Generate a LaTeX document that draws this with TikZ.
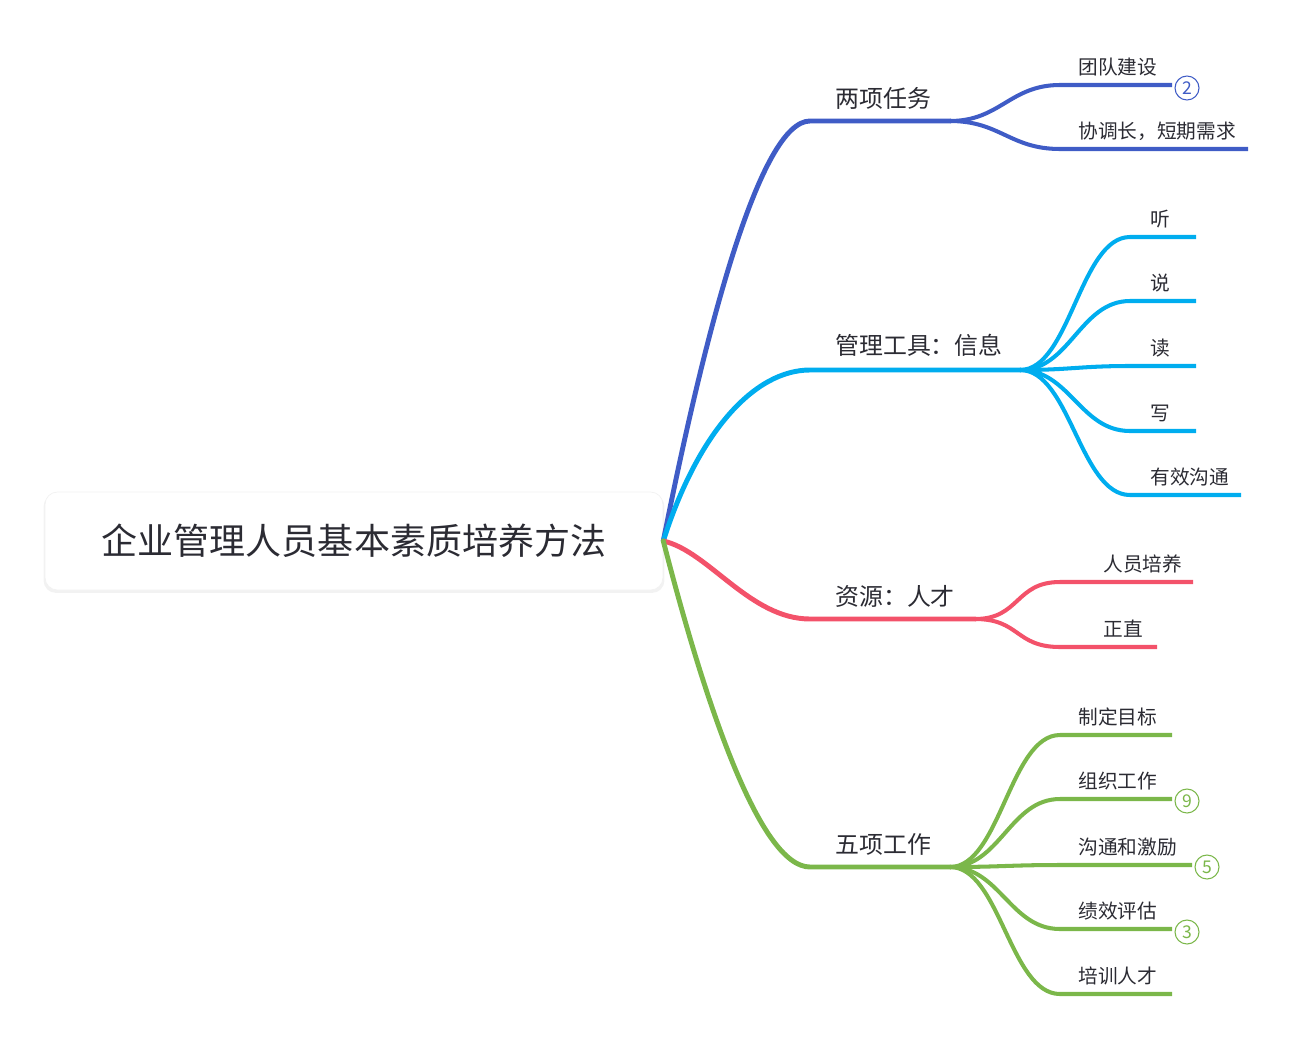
\documentclass[tikz,border=0pt]{standalone}
\usepackage{fontspec}
\setmainfont{Noto Sans CJK SC}
\usetikzlibrary{shadows}
\definecolor{txt}{HTML}{2B2B33}
\definecolor{cblue}{HTML}{3F5CC6}
\definecolor{ccyan}{HTML}{00ADEF}
\definecolor{cred}{HTML}{F3526A}
\definecolor{cgreen}{HTML}{7BB74A}

\begin{document}
\begin{tikzpicture}[x=0.02cm, y=-0.02cm,
    root/.style={rectangle, rounded corners=7pt, fill=white, draw=black!5, line width=0.4pt,
        drop shadow={opacity=0.10, shadow xshift=0pt, shadow yshift=-1.5pt, shadow scale=1.005},
        minimum width=12.36cm, minimum height=1.96cm, text=txt, font=\fontsize{20.5}{24}\selectfont},
    topic/.style={anchor=base west, inner sep=0pt, text=txt, font=\fontsize{13.6}{16}\selectfont},
    sub/.style={anchor=base west, inner sep=0pt, text=txt, font=\fontsize{11.2}{14}\selectfont},
    trunk/.style={line width=2.8pt, line cap=round},
    twig/.style={line width=2.3pt},
    badge/.style={circle, fill=white, line width=0.6pt, minimum size=0.48cm, inner sep=0pt,
        font=\fontsize{10}{12}\selectfont}]

    \useasboundingbox (0,0) rectangle (1293,1041);

    \node[root] (root) at (354,541) {企业管理人员基本素质培养方法};

    % two tasks
    \coordinate (t1s) at (810,121); \coordinate (t1e) at (950,121);
    \node[topic] (t1) at (835,107) {两项任务};
    \draw[trunk, cblue] (root.east) .. controls +(42,-211) and +(-50,0) .. (t1s) -- (t1e);
    \coordinate (s11s) at (1060,85);  \coordinate (s11e) at (1172,85);
    \coordinate (s12s) at (1060,149); \coordinate (s12e) at (1248,149);
    \node[sub] (s11) at (1078,74) {团队建设};
    \node[sub] (s12) at (1078,138) {协调长，短期需求};
    \draw[twig, cblue] (t1e) .. controls +(50,0) and +(-50,0) .. (s11s) -- (s11e);
    \draw[twig, cblue] (t1e) .. controls +(50,0) and +(-50,0) .. (s12s) -- (s12e);
    \node[badge, draw=cblue, text=cblue] (b11) at (1187,88) {2};

    % tools
    \coordinate (t2s) at (810,370); \coordinate (t2e) at (1020,370);
    \node[topic] (t2) at (835,354) {管理工具：信息};
    \draw[trunk, ccyan] (root.east) .. controls +(35,-110) and +(-55,0) .. (t2s) -- (t2e);
    \coordinate (s21s) at (1130,237); \coordinate (s21e) at (1196,237);
    \coordinate (s22s) at (1130,301); \coordinate (s22e) at (1196,301);
    \coordinate (s23s) at (1130,366); \coordinate (s23e) at (1196,366);
    \coordinate (s24s) at (1130,431); \coordinate (s24e) at (1196,431);
    \coordinate (s25s) at (1130,495); \coordinate (s25e) at (1241,495);
    \node[sub] (s21) at (1150,226) {听};
    \node[sub] (s22) at (1150,290) {说};
    \node[sub] (s23) at (1150,355) {读};
    \node[sub] (s24) at (1150,420) {写};
    \node[sub] (s25) at (1150,484) {有效沟通};
    \draw[twig, ccyan] (t2e) .. controls +(50,0) and +(-50,0) .. (s21s) -- (s21e);
    \draw[twig, ccyan] (t2e) .. controls +(50,0) and +(-50,0) .. (s22s) -- (s22e);
    \draw[twig, ccyan] (t2e) .. controls +(50,0) and +(-50,0) .. (s23s) -- (s23e);
    \draw[twig, ccyan] (t2e) .. controls +(50,0) and +(-50,0) .. (s24s) -- (s24e);
    \draw[twig, ccyan] (t2e) .. controls +(50,0) and +(-50,0) .. (s25s) -- (s25e);

    % resources
    \coordinate (t3s) at (810,619); \coordinate (t3e) at (975,619);
    \node[topic] (t3) at (835,605) {资源：人才};
    \draw[trunk, cred] (root.east) .. controls +(45,10) and +(-60,0) .. (t3s) -- (t3e);
    \coordinate (s31s) at (1060,582); \coordinate (s31e) at (1193,582);
    \coordinate (s32s) at (1060,647); \coordinate (s32e) at (1157,647);
    \node[sub] (s31) at (1103,571) {人员培养};
    \node[sub] (s32) at (1103,636) {正直};
    \draw[twig, cred] (t3e) .. controls +(45,0) and +(-45,0) .. (s31s) -- (s31e);
    \draw[twig, cred] (t3e) .. controls +(45,0) and +(-45,0) .. (s32s) -- (s32e);

    % five jobs
    \coordinate (t4s) at (810,867); \coordinate (t4e) at (950,867);
    \node[topic] (t4) at (835,853) {五项工作};
    \draw[trunk, cgreen] (root.east) .. controls +(42,163) and +(-50,0) .. (t4s) -- (t4e);
    \coordinate (s41s) at (1060,735); \coordinate (s41e) at (1172,735);
    \coordinate (s42s) at (1060,799); \coordinate (s42e) at (1172,799);
    \coordinate (s43s) at (1060,865); \coordinate (s43e) at (1192,865);
    \coordinate (s44s) at (1060,929); \coordinate (s44e) at (1172,929);
    \coordinate (s45s) at (1060,994); \coordinate (s45e) at (1172,994);
    \node[sub] (s41) at (1078,724) {制定目标};
    \node[sub] (s42) at (1078,788) {组织工作};
    \node[sub] (s43) at (1078,854) {沟通和激励};
    \node[sub] (s44) at (1078,918) {绩效评估};
    \node[sub] (s45) at (1078,983) {培训人才};
    \draw[twig, cgreen] (t4e) .. controls +(50,0) and +(-50,0) .. (s41s) -- (s41e);
    \draw[twig, cgreen] (t4e) .. controls +(50,0) and +(-50,0) .. (s42s) -- (s42e);
    \draw[twig, cgreen] (t4e) .. controls +(50,0) and +(-50,0) .. (s43s) -- (s43e);
    \draw[twig, cgreen] (t4e) .. controls +(50,0) and +(-50,0) .. (s44s) -- (s44e);
    \draw[twig, cgreen] (t4e) .. controls +(50,0) and +(-50,0) .. (s45s) -- (s45e);
    \node[badge, draw=cgreen, text=cgreen] (b42) at (1187,801) {9};
    \node[badge, draw=cgreen, text=cgreen] (b43) at (1207,867) {5};
    \node[badge, draw=cgreen, text=cgreen] (b44) at (1187,932) {3};
\end{tikzpicture}
\end{document}
